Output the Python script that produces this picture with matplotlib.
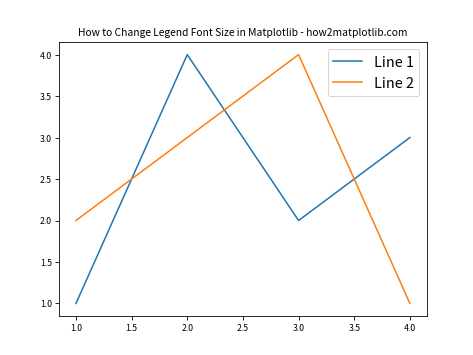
import matplotlib
matplotlib.use('Agg')
import matplotlib.pyplot as plt

plt.rcParams['font.family'] = ['Noto Sans CJK SC', 'DejaVu Sans']

# data
x = [1, 2, 3, 4]
line1 = [1, 4, 2, 3]
line2 = [2, 3, 4, 1]

fig, ax = plt.subplots(figsize=(6.4, 4.8), dpi=74.06)

ax.plot(x, line1, label='Line 1')
ax.plot(x, line2, label='Line 2')

ax.set_title('How to Change Legend Font Size in Matplotlib - how2matplotlib.com', fontsize=10)
ax.tick_params(labelsize=8.5)
ax.legend(fontsize=14)

fig.savefig('out.png', dpi=74.06)
